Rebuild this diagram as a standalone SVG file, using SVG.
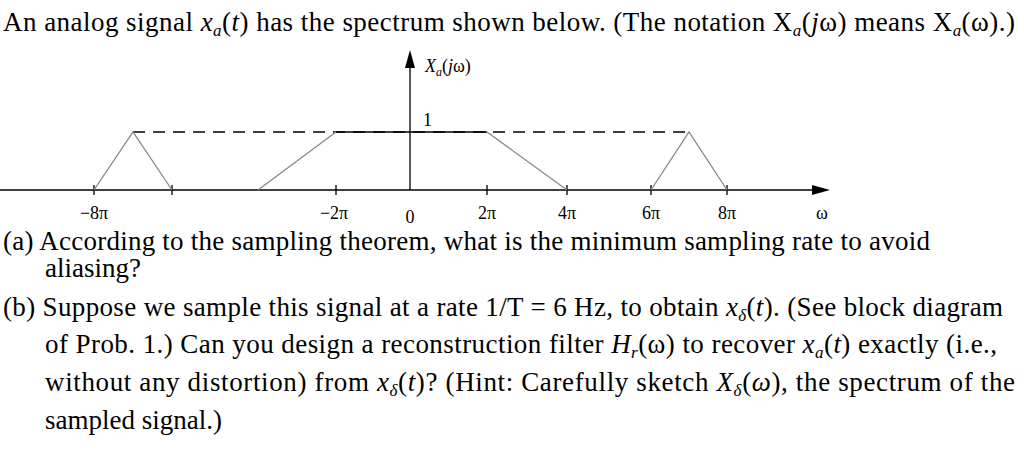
<svg xmlns="http://www.w3.org/2000/svg" width="1024" height="454" viewBox="0 0 1024 454">
<style>
text{font-family:"Liberation Serif",serif;fill:#000}
.t{font-size:27px}
.s{font-size:18px}
.ln{stroke:#888;stroke-width:1.3;fill:none}
.ax{stroke:#000;stroke-width:1.3;fill:none}
</style>
<rect width="1024" height="454" fill="#fff"/>
<text class="t" x="3" y="31" textLength="1012" lengthAdjust="spacing">An analog signal <tspan font-style="italic">x</tspan><tspan font-style="italic" font-size="17" dy="5">a</tspan><tspan dy="-5">(</tspan><tspan font-style="italic">t</tspan>)  has the spectrum shown below.  (The notation X<tspan font-size="17" font-style="italic" dy="5">a</tspan><tspan dy="-5">(</tspan><tspan font-style="italic">j</tspan>ω) means X<tspan font-size="17" font-style="italic" dy="5">a</tspan><tspan dy="-5">(ω).)</tspan></text>
<g id="plot">
<line class="ax" x1="0" y1="190" x2="818" y2="190"/>
<polygon points="830,190 812,185 812,195" fill="#000"/>
<line class="ax" x1="410" y1="190" x2="410" y2="62"/>
<polygon points="410,50 405,68 415,68" fill="#000"/>
<path class="ax" d="M94 185v10M172 185v10M336 185v10M487 185v10M567 185v10M651 185v10M727 185v10"/>
<line x1="133" y1="132" x2="689" y2="132" stroke="#000" stroke-width="1.3" stroke-dasharray="12,8"/>
<line class="ax" x1="336" y1="132" x2="487" y2="132"/>
<polyline class="ln" points="94,190 133,132 172,190"/>
<polyline class="ln" points="258,190 336,132"/>
<polyline class="ln" points="487,132 567,190"/>
<polyline class="ln" points="651,190 689,132 727,190"/>
<text class="s" x="425" y="72" font-style="italic">X<tspan font-size="12" dy="4">a</tspan><tspan dy="-4" font-style="normal">(</tspan>j<tspan font-style="normal">ω)</tspan></text>
<text class="s" x="423" y="126">1</text>
<g class="s" text-anchor="middle">
<text x="94" y="219">−8π</text>
<text x="334" y="219">−2π</text>
<text x="410" y="223">0</text>
<text x="487" y="219">2π</text>
<text x="567" y="219">4π</text>
<text x="651" y="219">6π</text>
<text x="727" y="219">8π</text>
<text x="822" y="219">ω</text>
</g>
</g>
<text class="t" x="3" y="250" textLength="927" lengthAdjust="spacing">(a) According to the sampling theorem, what is the minimum sampling rate to avoid</text>
<text class="t" x="45" y="277">aliasing?</text>
<text class="t" x="3" y="316" textLength="1000" lengthAdjust="spacing">(b) Suppose we sample this signal at a rate 1/T = 6 Hz, to obtain <tspan font-style="italic">x</tspan><tspan font-style="italic" font-size="17" dy="5">δ</tspan><tspan dy="-5">(</tspan><tspan font-style="italic">t</tspan>).  (See block diagram</text>
<text class="t" x="45" y="353" textLength="952" lengthAdjust="spacing">of Prob. 1.) Can you design a reconstruction filter <tspan font-style="italic">H</tspan><tspan font-style="italic" font-size="17" dy="5">r</tspan><tspan dy="-5">(ω) to recover </tspan><tspan font-style="italic">x</tspan><tspan font-style="italic" font-size="17" dy="5">a</tspan><tspan dy="-5">(</tspan><tspan font-style="italic">t</tspan>)  exactly (i.e.,</text>
<text class="t" x="45" y="391" textLength="970" lengthAdjust="spacing">without any distortion) from <tspan font-style="italic">x</tspan><tspan font-style="italic" font-size="17" dy="5">δ</tspan><tspan dy="-5">(</tspan><tspan font-style="italic">t</tspan>)? (Hint: Carefully sketch <tspan font-style="italic">X</tspan><tspan font-style="italic" font-size="17" dy="5">δ</tspan><tspan dy="-5">(</tspan><tspan font-style="italic">ω</tspan>), the spectrum of the</text>
<text class="t" x="45" y="429">sampled signal.)</text>
</svg>
